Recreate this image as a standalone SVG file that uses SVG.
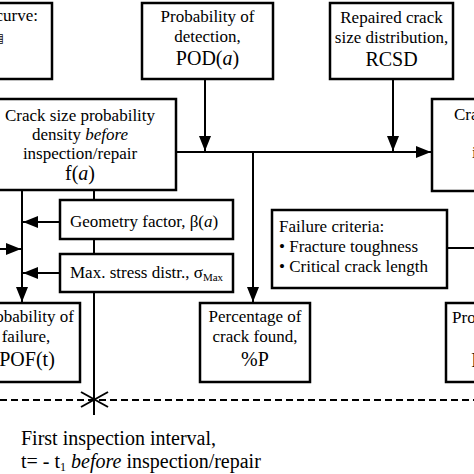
<svg xmlns="http://www.w3.org/2000/svg" width="474" height="474" viewBox="0 0 474 474">
<style>
.box{fill:#fff;stroke:#000;stroke-width:2.5}
.ln{fill:none;stroke:#000;stroke-width:2}
.t{font-family:"Liberation Serif","Times New Roman",serif;font-size:17px;fill:#000}
.c{text-anchor:middle}
.big{font-size:20px}
.i{font-style:italic}
</style>
<defs>
<marker id="ah" viewBox="0 0 15 12" refX="15" refY="6" markerWidth="7.5" markerHeight="6" markerUnits="strokeWidth" orient="auto">
<path d="M0,0 L15,6 L0,12 Z" fill="#000"/>
</marker>
</defs>
<rect width="474" height="474" fill="#fff"/>

<g id="connectors">
<line class="ln" x1="94" y1="190" x2="94" y2="415"/>
<line class="ln" x1="205" y1="79" x2="205" y2="151" marker-end="url(#ah)"/>
<line class="ln" x1="393" y1="79" x2="393" y2="151" marker-end="url(#ah)"/>
<line class="ln" x1="176" y1="152" x2="431" y2="152" marker-end="url(#ah)"/>
<line class="ln" x1="253" y1="152" x2="253" y2="302" marker-end="url(#ah)"/>
<line class="ln" x1="22" y1="190" x2="22" y2="302" marker-end="url(#ah)"/>
<line class="ln" x1="60" y1="222" x2="23" y2="222" marker-end="url(#ah)"/>
<line class="ln" x1="60" y1="273" x2="23" y2="273" marker-end="url(#ah)"/>
<line class="ln" x1="0" y1="249" x2="21" y2="249" marker-end="url(#ah)"/>
<line class="ln" x1="447" y1="248" x2="474" y2="248"/>
<line class="ln" x1="0" y1="400" x2="474" y2="400" stroke-dasharray="7 4"/>
<line class="ln" x1="81" y1="392" x2="108" y2="407" stroke-width="1.6"/>
<line class="ln" x1="81" y1="407" x2="108" y2="392" stroke-width="1.6"/>
</g>

<g id="node-curve">
<rect class="box" x="-60" y="3" width="112" height="76"/>
<text class="t" x="38" y="21" text-anchor="end">curve:</text>
<text x="4" y="42" text-anchor="end" style="font-family:'DejaVu Sans',sans-serif;font-size:12px">▤</text>
</g>

<g id="node-pod">
<rect class="box" x="142" y="3" width="131" height="76"/>
<text class="t c" x="207.5" y="22">Probability of</text>
<text class="t c" x="207.5" y="42">detection,</text>
<text class="t c big" x="207.5" y="65">POD(<tspan class="i">a</tspan>)</text>
</g>

<g id="node-rcsd">
<rect class="box" x="330" y="3" width="123" height="76"/>
<text class="t c" x="391.5" y="23">Repaired crack</text>
<text class="t c" x="391.5" y="43">size distribution,</text>
<text class="t c big" x="391.5" y="66">RCSD</text>
</g>

<g id="node-fbefore">
<rect class="box" x="-20" y="99" width="196" height="91"/>
<text class="t c" x="80" y="121">Crack size probability</text>
<text class="t c" x="80" y="140">density <tspan class="i">before</tspan></text>
<text class="t c" x="80" y="159">inspection/repair</text>
<text class="t c big" x="80" y="180">f(<tspan class="i">a</tspan>)</text>
</g>

<g id="node-fafter">
<rect class="box" x="432" y="99" width="196" height="92"/>
<text class="t c" x="529" y="120">Crack size probability</text>
<text class="t c" x="529" y="158">inspection/repair</text>
</g>

<g id="node-geometry">
<rect class="box" x="60" y="200" width="173" height="39"/>
<text class="t" x="70" y="227">Geometry factor, β(<tspan class="i">a</tspan>)</text>
</g>

<g id="node-stress">
<rect class="box" x="60" y="254" width="173" height="38"/>
<text class="t" x="70" y="278">Max. stress distr., σ<tspan font-size="11" dy="3">Max</tspan></text>
</g>

<g id="node-failure-criteria">
<rect class="box" x="272" y="210" width="175" height="78"/>
<text class="t" x="279" y="232">Failure criteria:</text>
<text class="t" x="279" y="252">• Fracture toughness</text>
<text class="t" x="279" y="272">• Critical crack length</text>
</g>

<g id="node-pof">
<rect class="box" x="-26" y="303" width="106" height="79"/>
<text class="t c" x="27" y="322">Probability of</text>
<text class="t c" x="26" y="342">failure,</text>
<text class="t c big" x="27" y="366">POF(t)</text>
</g>

<g id="node-percent">
<rect class="box" x="200" y="303" width="110" height="79"/>
<text class="t c" x="255" y="322">Percentage of</text>
<text class="t c" x="255" y="342">crack found,</text>
<text class="t c big" x="255" y="366">%P</text>
</g>

<g id="node-pof2">
<rect class="box" x="446" y="303" width="106" height="79"/>
<text class="t c" x="499" y="323">Probability of</text>
<text class="t c big" x="499" y="367">POF(t)</text>
</g>

<g id="caption">
<text class="t big" x="21" y="445">First inspection interval,</text>
<text class="t big" x="21" y="468">t= - t<tspan font-size="12" dy="3">1</tspan><tspan dy="-3"> </tspan><tspan class="i">before</tspan> inspection/repair</text>
</g>
</svg>
